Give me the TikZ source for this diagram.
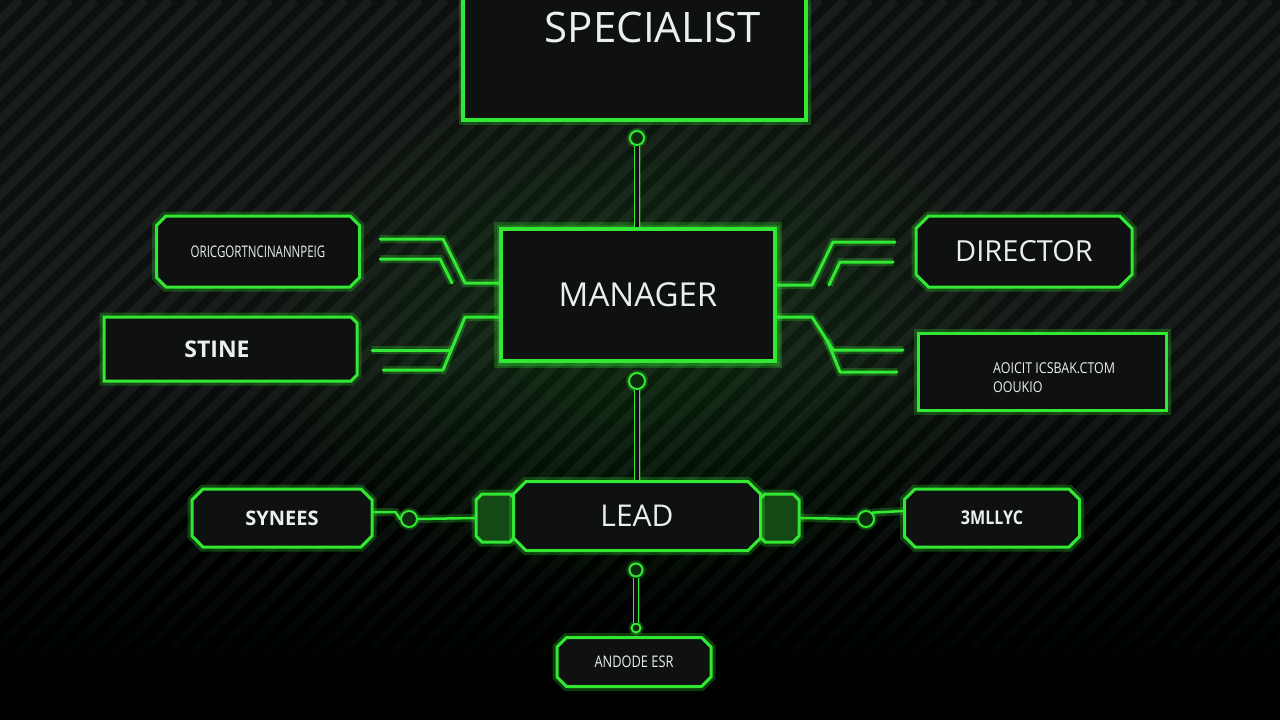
\documentclass[tikz,border=0pt]{standalone}
\usepackage{fontspec}
\setmainfont{Open Sans}
\usetikzlibrary{shapes.misc}
\definecolor{neon}{RGB}{50,232,50}
\definecolor{bgcol}{RGB}{13,16,14}
\definecolor{stripe}{RGB}{24,28,26}
\definecolor{boxfill}{RGB}{14,17,15}
\definecolor{capfill}{RGB}{20,72,20}
\definecolor{label}{RGB}{236,240,236}
\tikzset{
    glow/.style={preaction={draw=neon, opacity=0.25, line width=#1}},
    glow/.default=9,
    box/.style={draw=neon, line width=3, fill=boxfill, glow, text=label, inner sep=0pt},
    chambox/.style={box, chamfered rectangle, chamfered rectangle xsep=9pt},
    track/.style={draw=neon, line width=3, glow=8, line cap=round, line join=round},
    rail/.style={draw=neon, line width=1.6, double=bgcol, double distance=3.5pt, glow=7},
    knob/.style={circle, draw=neon, line width=2, fill=capfill!60!black, minimum size=14, inner sep=0pt, glow=6},
    txt/.style={text=label, inner sep=0pt},
}
\begin{document}
\begin{tikzpicture}[x=1pt, y=-1pt]
    \useasboundingbox (0,0) rectangle (1280,720);
    % background with stripes
    \fill[bgcol] (0,0) rectangle (1280,720);
    \begin{scope}
        \clip (0,0) rectangle (1280,720);
        \foreach \i in {-30,...,52}
            \draw[stripe, line width=9] (\i*25,720) -- (\i*25+720,0);
        \foreach \k in {0,...,27}
            \fill[black, opacity=0.035] (0,360+\k*12) rectangle (1280,720);
        \foreach \r in {1,...,8}
            \fill[neon, opacity=0.012] (638,330) ellipse ({100+\r*35} and {70+\r*25});
    \end{scope}

    % top
    \node[box, line width=4, minimum width=343, minimum height=130] (spec) at (634.5,55) {};
    \node[txt, font=\fontsize{42}{42}\selectfont] (spectext) at (653,27) {SPECIALIST};
    \node[box, line width=4, glow=14, minimum width=274, minimum height=132,
          font=\fontsize{33}{33}\selectfont] (mgr) at (638,295) {MANAGER};
    \node[knob] (knobtop) at (637,138) {};
    \draw[rail] (knobtop.south) -- (knobtop.south |- mgr.north);

    % left side
    \node[chambox, minimum width=203, minimum height=71,
          font=\fontsize{16}{16}\selectfont] (oric) at (258,251.5) {\scalebox{0.72}[1]{ORICGORTNCINANNPEIG}};
    \node[box, chamfered rectangle, chamfered rectangle corners={north east, south east},
          chamfered rectangle xsep=9pt, minimum width=253, minimum height=64] (stine) at (230.5,349) {\strut};
    \node[txt, font=\bfseries\fontsize{23}{23}\selectfont] (stinetext) at (217,349) {STINE};
    \coordinate (lu0) at (380,239);
    \coordinate (lu1) at (443,239);
    \coordinate (lu2) at (465,283);
    \coordinate (lv0) at (380,259);
    \coordinate (lv1) at (440,259);
    \coordinate (lv2) at (452,283);
    \coordinate (ld0) at (372,350);
    \coordinate (ld1) at (451,350);
    \coordinate (le0) at (383,370);
    \coordinate (le1) at (443,370);
    \coordinate (le2) at (465,317);
    \draw[track] (lu0) -- (lu1) -- (lu2) -- ([yshift=12pt]mgr.west);
    \draw[track] (lv0) -- (lv1) -- (lv2);
    \draw[track] (le0) -- (le1) -- (le2) -- ([yshift=-22pt]mgr.west);
    \draw[track] (ld0) -- (ld1);

    % right side
    \node[chambox, minimum width=216, minimum height=71,
          font=\fontsize{29}{29}\selectfont] (dir) at (1024,251.5) {DIRECTOR};
    \node[box, minimum width=248, minimum height=77] (aoic) at (1042,371.5) {};
    \node[txt, anchor=west, align=left, font=\fontsize{15}{19}\selectfont] (aoictext) at (993,378)
        {\scalebox{0.83}[1]{AOICIT ICSBAK.CTOM}\\\scalebox{0.83}[1]{OOUKIO}};
    \coordinate (ru0) at (895,242);
    \coordinate (ru1) at (833,242);
    \coordinate (ru2) at (812,285);
    \coordinate (rv0) at (893,262);
    \coordinate (rv1) at (840,262);
    \coordinate (rv2) at (829,285);
    \coordinate (rd0) at (903,350);
    \coordinate (rd1) at (833,350);
    \coordinate (rd2) at (812,317);
    \coordinate (re0) at (897,372);
    \coordinate (re1) at (840,372);
    \coordinate (re2) at (827,340);
    \draw[track] (ru0) -- (ru1) -- (ru2) -- ([yshift=10pt]mgr.east);
    \draw[track] (rv0) -- (rv1) -- (rv2);
    \draw[track] (rd0) -- (rd1) -- (rd2) -- ([yshift=-22pt]mgr.east);
    \draw[track] (re0) -- (re1) -- (re2);

    % lead row
    \node[knob, minimum size=16] (knobmid) at (637,381) {};
    \node[chambox, fill=capfill, chamfered rectangle xsep=7pt, minimum width=40, minimum height=48] (capl) at (496,518) {\strut};
    \node[chambox, fill=capfill, chamfered rectangle xsep=7pt, minimum width=40, minimum height=48] (capr) at (779,518) {\strut};
    \node[chambox, minimum width=247, minimum height=69,
          font=\fontsize{30}{30}\selectfont] (lead) at (637,516) {LEAD};
    \draw[rail] (knobmid.south) -- (knobmid.south |- lead.north);
    \node[chambox, minimum width=180, minimum height=58,
          font=\bfseries\fontsize{20}{20}\selectfont] (syn) at (282,518) {SYNEES};
    \node[chambox, minimum width=175, minimum height=58,
          font=\bfseries\fontsize{19}{19}\selectfont] (emly) at (992,518) {\scalebox{0.85}[1]{3MLLYC}};
    \node[knob, minimum size=16] (knobl) at (409,519) {};
    \node[knob, minimum size=16] (knobr) at (866,519) {};
    \draw[track, line width=2.5] ([yshift=6pt]syn.east) -- ++(22,0) -- (knobl.west);
    \draw[track, line width=2.5] (knobl.east) -- (capl.west);
    \draw[track, line width=2.5] (capr.east) -- (knobr.west);
    \draw[track, line width=2.5] (knobr.north east) -- ([yshift=7pt]emly.west);

    % bottom
    \node[knob, minimum size=13] (knobbot) at (636,570) {};
    \node[knob, minimum size=9] (knobfoot) at (636,628) {};
    \node[chambox, minimum width=154, minimum height=49,
          font=\fontsize{16}{16}\selectfont] (ande) at (634,662) {\scalebox{0.8}[1]{ANDODE ESR}};
    \draw[rail] (knobbot.south) -- (knobfoot.north);
\end{tikzpicture}
\end{document}
